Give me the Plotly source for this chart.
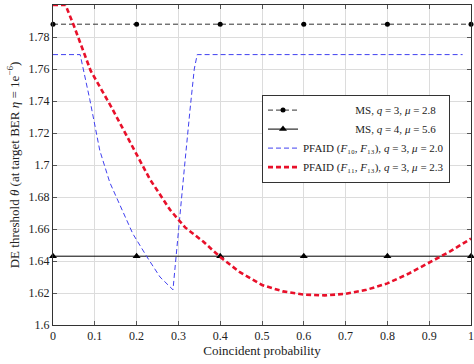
import plotly.graph_objects as go

# ---- data ----
ms_x = [0, 0.2, 0.4, 0.6, 0.8, 1.0]
ms_q3_y = [1.788, 1.788, 1.788, 1.788, 1.788, 1.788]
ms_q4_y = [1.643, 1.643, 1.643, 1.643, 1.643, 1.643]

blue_x = [0, 0.065, 0.088, 0.112, 0.136, 0.16, 0.191, 0.225, 0.256, 0.287,
          0.30, 0.315, 0.328, 0.338, 0.345, 0.98]
blue_y = [1.769, 1.769, 1.741, 1.709, 1.689, 1.675, 1.657, 1.6425, 1.630, 1.622,
          1.66, 1.70, 1.735, 1.76, 1.769, 1.769]

red_x = [0, 0.03, 0.05, 0.09, 0.14, 0.184, 0.232, 0.28, 0.316, 0.36, 0.4, 0.447,
         0.5, 0.55, 0.6, 0.65, 0.7, 0.75, 0.8, 0.85, 0.9, 0.95, 1.0]
red_y = [1.8, 1.8, 1.787, 1.759, 1.736, 1.714, 1.691, 1.672, 1.661, 1.652, 1.6425, 1.633,
         1.625, 1.621, 1.619, 1.6185, 1.6195, 1.622, 1.626, 1.632, 1.639, 1.646, 1.654]

x_ticks = [0, 0.1, 0.2, 0.3, 0.4, 0.5, 0.6, 0.7, 0.8, 0.9, 1]
x_labels = ["0", "0.1", "0.2", "0.3", "0.4", "0.5", "0.6", "0.7", "0.8", "0.9", "1"]
y_ticks = [1.6, 1.62, 1.64, 1.66, 1.68, 1.7, 1.72, 1.74, 1.76, 1.78, 1.8]
y_labels = ["1.6", "1.62", "1.64", "1.66", "1.68", "1.7", "1.72", "1.74", "1.76", "1.78", "1.8"]

names = [
    "\u00a0" * 19 + "MS, <i>q</i> = 3, <i>μ</i> = 2.8",
    "\u00a0" * 19 + "MS, <i>q</i> = 4, <i>μ</i> = 5.6",
    "PFAID (<i>F</i>₁₀, <i>F</i>₁₃), <i>q</i> = 3, <i>μ</i> = 2.0",
    "PFAID (<i>F</i>₁₁, <i>F</i>₁₃), <i>q</i> = 3, <i>μ</i> = 2.3",
]

FONT = "Liberation Serif"

fig = go.Figure()
fig.add_trace(go.Scatter(x=ms_x, y=ms_q3_y, mode="lines+markers", name=names[0],
                         line=dict(color="#333333", width=1, dash="5px,3px"),
                         marker=dict(symbol="circle", size=5, color="black"),
                         cliponaxis=False))
fig.add_trace(go.Scatter(x=ms_x, y=ms_q4_y, mode="lines+markers", name=names[1],
                         line=dict(color="black", width=1),
                         marker=dict(symbol="triangle-up", size=7, color="black"),
                         cliponaxis=False))
fig.add_trace(go.Scatter(x=blue_x, y=blue_y, mode="lines", name=names[2],
                         line=dict(color="#4040f0", width=1, dash="5px,3px")))
fig.add_trace(go.Scatter(x=red_x, y=red_y, mode="lines", name=names[3],
                         line=dict(color="#e8102a", width=2.6, dash="5px,3px")))

axis_common = dict(showline=True, linecolor="#333333", linewidth=1, mirror="all",
                   ticks="inside", ticklen=4, tickcolor="#555555",
                   showgrid=True, gridcolor="#dcdcdc", gridwidth=1, zeroline=False,
                   automargin=False,
                   tickfont=dict(family=FONT, size=12, color="#222222"))

fig.update_xaxes(range=[0, 1], tickvals=x_ticks, ticktext=x_labels,
                 title=dict(text="Coincident probability", font=dict(family=FONT, size=13, color="#222222"),
                            standoff=0),
                 **axis_common)
fig.update_yaxes(range=[1.6, 1.8], tickvals=y_ticks, ticktext=y_labels,
                 title=dict(text="DE threshold <i>θ</i> (at target BER <i>η</i> = 1e<sup>−6</sup>)",
                            font=dict(family=FONT, size=13, color="#222222"), standoff=6),
                 **axis_common)

fig.update_layout(
    width=474, height=364,
    margin=dict(l=53, r=3, t=5, b=39, autoexpand=False),
    paper_bgcolor="white", plot_bgcolor="white",
    font=dict(family=FONT, size=11, color="#222222"),
    showlegend=True,
    legend=dict(x=0.5, y=0.72, xanchor="left", yanchor="top",
                bgcolor="white", bordercolor="#333333", borderwidth=1,
                font=dict(family=FONT, size=11), tracegroupgap=0,
                itemwidth=30),
)

fig.write_html("out.html", config={"displayModeBar": False},
               post_script="document.body.style.margin='0';document.body.style.padding='0';")
